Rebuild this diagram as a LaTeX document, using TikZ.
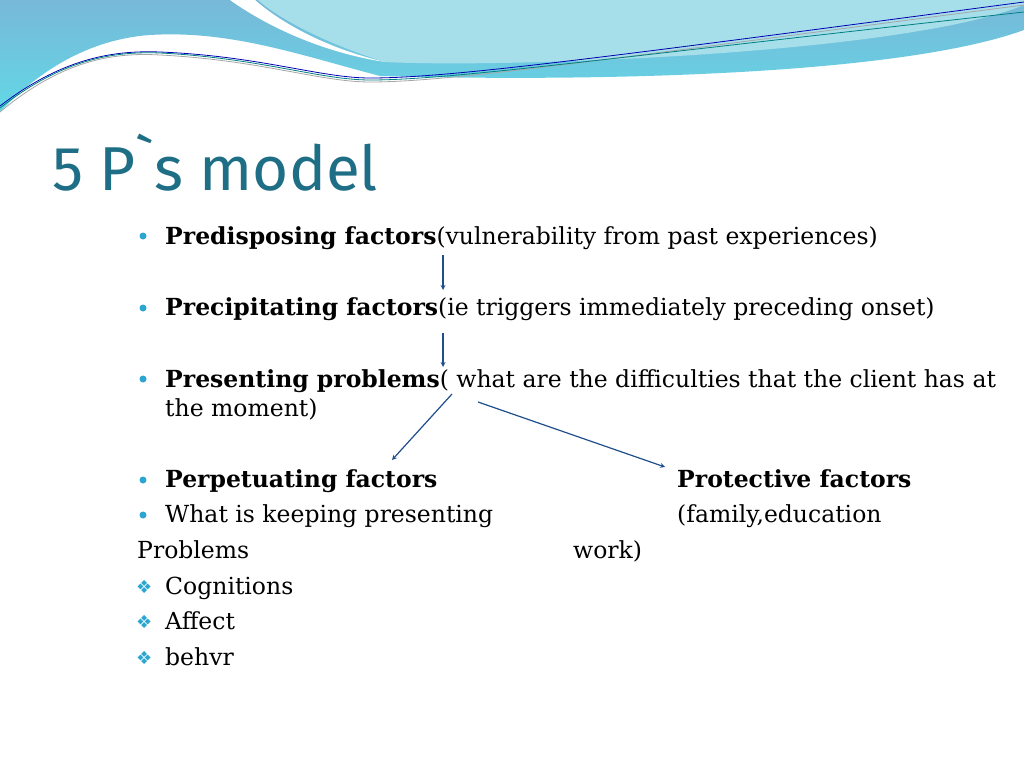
\documentclass[tikz,border=0pt]{standalone}
\usepackage{fontspec}
\setmainfont{DejaVu Serif}
\newfontfamily\titlefont{Fira Sans}
\newfontfamily\symfont{DejaVu Sans}
\definecolor{titleteal}{HTML}{1E6E86}
\definecolor{wavedeep}{HTML}{78B8D8}
\definecolor{wavecyan}{HTML}{62D8E6}
\definecolor{wavelight}{HTML}{A6DEEA}
\definecolor{bulletblue}{HTML}{2AA6D0}
\definecolor{arrowblue}{HTML}{1F4E8C}
\tikzset{
  line/.style={anchor=base west, inner sep=0pt, font=\fontsize{23.5}{28}\selectfont},
  dot/.style={circle, fill=bulletblue, inner sep=0pt, minimum size=7pt},
  diamondbullet/.style={anchor=base west, inner sep=0pt, text=bulletblue, font=\symfont\fontsize{18}{20}\selectfont},
  flow/.style={-stealth, arrowblue, line width=1.2pt}
}
\begin{document}
\begin{tikzpicture}[x=1pt,y=-1pt]
\useasboundingbox (0,0) rectangle (1024,768);
\fill[white] (0,0) rectangle (1024,768);
% wave at the top
\shade[top color=wavedeep, bottom color=wavecyan]
  (0,0) -- (1024,0) -- (1024,30) .. controls (900,75) and (600,82) .. (380,76)
  .. controls (300,55) and (230,30) .. (150,35) .. controls (80,40) and (30,80) .. (0,112) -- cycle;
\fill[wavelight] (258,0) -- (1024,0) -- (1024,5) .. controls (900,55) and (500,68) .. (385,62)
  .. controls (330,45) and (280,20) .. (258,0) -- cycle;
\fill[white] (230,0) .. controls (265,25) and (320,52) .. (385,62)
  .. controls (325,48) and (280,22) .. (255,0) -- cycle;
\draw[gray!70, line width=0.8pt] (0,112) .. controls (60,62) and (110,52) .. (160,55)
  .. controls (260,60) and (320,82) .. (370,82) .. controls (450,82) and (600,60) .. (1024,5);
\draw[blue!70!black, line width=0.8pt] (0,106) .. controls (60,60) and (110,50) .. (160,52)
  .. controls (260,56) and (320,78) .. (370,78) .. controls (450,78) and (600,58) .. (1024,2);
\draw[teal, line width=0.8pt] (0,108) .. controls (60,61) and (110,51) .. (160,53)
  .. controls (260,58) and (320,80) .. (370,80) .. controls (450,80) and (600,59) .. (1024,12);
% title
\node[anchor=base west, inner sep=0pt, text=titleteal, font=\titlefont\fontsize{62}{64}\selectfont] (title) at (52,190) {5 P`s model};
% bullet lines
\node[line] (predis) at (165,244) {\textbf{Predisposing factors}(vulnerability from past experiences)};
\node[line] (precip) at (165,315) {\textbf{Precipitating factors}(ie triggers immediately preceding onset)};
\node[line] (present) at (165,387) {\textbf{Presenting problems}( what are the difficulties that the client has at};
\node[line] (moment) at (165,416) {the moment)};
\node[line] (perpet) at (165,487) {\textbf{Perpetuating factors}};
\node[line] (protect) at (677,487) {\textbf{Protective factors}};
\node[line] (keeping) at (165,522) {What is keeping presenting};
\node[line] (family) at (677,522) {(family,education};
\node[line] (probs) at (137,558) {Problems};
\node[line] (work) at (573,558) {work)};
\node[line] (cogn) at (165,594) {Cognitions};
\node[line] (affect) at (165,629) {Affect};
\node[line] (behvr) at (165,665) {behvr};
\foreach \y in {236,308,379,480,515} \node[dot] at (143,\y) {};
\foreach \y in {593,628,664} \node[diamondbullet] at (136,\y) {❖};
% arrows
\coordinate (a1s) at (443,255); \coordinate (a1e) at (443,290);
\coordinate (a2s) at (443,333); \coordinate (a2e) at (443,367);
\coordinate (a3s) at (452,394); \coordinate (a3e) at (392,460);
\coordinate (a4s) at (478,402); \coordinate (a4e) at (665,467);
\draw[flow] (a1s) -- (a1e);
\draw[flow] (a2s) -- (a2e);
\draw[flow] (a3s) -- (a3e);
\draw[flow] (a4s) -- (a4e);
\end{tikzpicture}
\end{document}
